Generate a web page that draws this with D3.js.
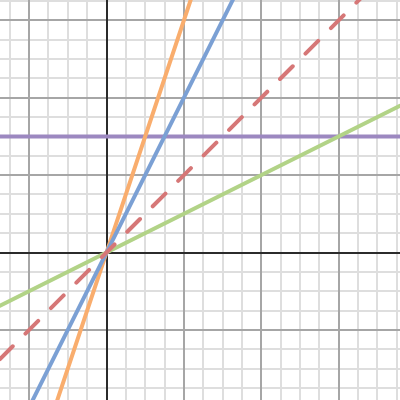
<!DOCTYPE html>
<html>
<head>
<meta charset="utf-8">
<script src="https://cdn.jsdelivr.net/npm/d3@7"></script>
<style>
  html, body { margin: 0; padding: 0; background: #fff; }
  svg { display: block; }
</style>
</head>
<body>
<div id="chart"></div>
<script>
// graph window (math units)
var xDomain = [-2.752, 7.584];
var yDomain = [-3.811, 6.525];

// grid spacing
var majorStep = 2;
var minorStep = 0.5;

// lines: y = slope * x + intercept
var lineNames = ["purple", "green", "orange", "blue", "red"];
var slopes = [0, 0.5, 3, 2, 1];
var intercepts = [3, 0, 0, 0, 0];
var lineColors = ["#9c88c0", "#b2d387", "#f9ad6d", "#7ba0d4", "#d67777"];
var dashed = [false, false, false, false, true];

var W = 400, H = 400;

var svg = d3.select("#chart").append("svg")
    .attr("width", W)
    .attr("height", H);

var x = d3.scaleLinear().domain(xDomain).range([0, W]);
var y = d3.scaleLinear().domain(yDomain).range([H, 0]);

// snap grid lines to whole pixels so they stay crisp
function px(v){ return Math.round(x(v)); }
function py(v){ return Math.round(y(v)); }

function isMajor(v){
    var r = v / majorStep;
    return Math.abs(r - Math.round(r)) < 1e-6;
}

var gridX = d3.range(Math.ceil(xDomain[0] / minorStep), Math.floor(xDomain[1] / minorStep) + 1)
    .map(function(k){ return k * minorStep; });
var gridY = d3.range(Math.ceil(yDomain[0] / minorStep), Math.floor(yDomain[1] / minorStep) + 1)
    .map(function(k){ return k * minorStep; });

var grid = svg.append("g").attr("class", "grid");

// minor grid
grid.selectAll("line.minorx").data(gridX.filter(function(v){ return !isMajor(v); })).enter().append("line")
    .attr("class", "minorx")
    .attr("x1", px).attr("x2", px)
    .attr("y1", 0).attr("y2", H)
    .attr("stroke", "#dedede").attr("stroke-width", 2);

grid.selectAll("line.minory").data(gridY.filter(function(v){ return !isMajor(v); })).enter().append("line")
    .attr("class", "minory")
    .attr("y1", py).attr("y2", py)
    .attr("x1", 0).attr("x2", W)
    .attr("stroke", "#dedede").attr("stroke-width", 2);

// major grid
grid.selectAll("line.majorx").data(gridX.filter(function(v){ return isMajor(v) && v !== 0; })).enter().append("line")
    .attr("class", "majorx")
    .attr("x1", px).attr("x2", px)
    .attr("y1", 0).attr("y2", H)
    .attr("stroke", "#a6a6a6").attr("stroke-width", 2);

grid.selectAll("line.majory").data(gridY.filter(function(v){ return isMajor(v) && v !== 0; })).enter().append("line")
    .attr("class", "majory")
    .attr("y1", py).attr("y2", py)
    .attr("x1", 0).attr("x2", W)
    .attr("stroke", "#a6a6a6").attr("stroke-width", 2);

// axes
svg.append("line")
    .attr("x1", px(0)).attr("x2", px(0))
    .attr("y1", 0).attr("y2", H)
    .attr("stroke", "#2b2b2b").attr("stroke-width", 2);
svg.append("line")
    .attr("y1", py(0)).attr("y2", py(0))
    .attr("x1", 0).attr("x2", W)
    .attr("stroke", "#2b2b2b").attr("stroke-width", 2);

// function lines
var lines = lineNames.map(function(n, i){
    return { name: n, m: slopes[i], b: intercepts[i], color: lineColors[i], dash: dashed[i] };
});

var lineGen = d3.line()
    .x(function(d){ return x(d[0]); })
    .y(function(d){ return y(d[1]); });

svg.append("g").attr("class", "curves")
  .selectAll("path").data(lines).enter().append("path")
    .attr("d", function(d){
        var pts = xDomain.map(function(xv){ return [xv, d.m * xv + d.b]; });
        return lineGen(pts);
    })
    .attr("fill", "none")
    .attr("stroke", function(d){ return d.color; })
    .attr("stroke-width", 4)
    .attr("stroke-linecap", "round")
    .attr("stroke-dasharray", function(d){ return d.dash ? "18,18" : null; });
</script>
</body>
</html>
